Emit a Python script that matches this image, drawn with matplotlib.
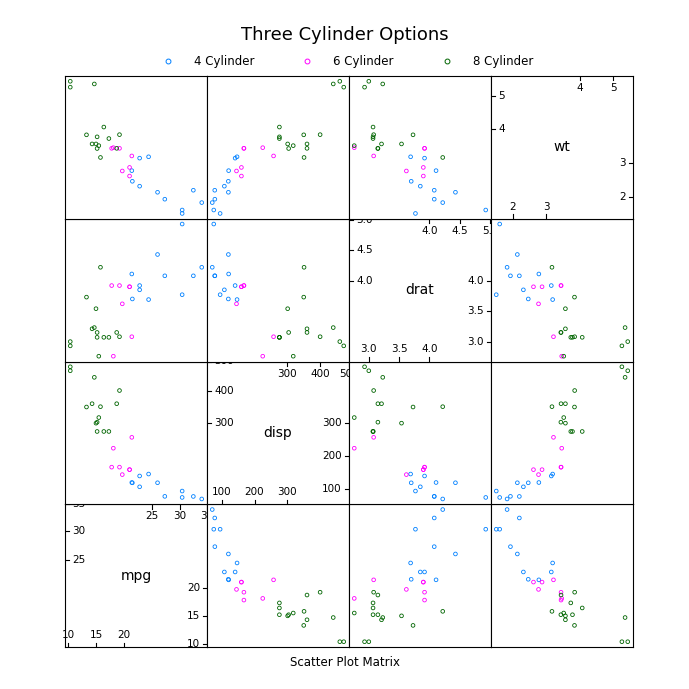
import numpy as np
import matplotlib.pyplot as plt
from matplotlib.lines import Line2D

# mtcars: mpg, disp, drat, wt by cylinder
cyl = [6, 6, 4, 6, 8, 6, 8, 4, 4, 6, 6, 8, 8, 8, 8, 8, 8, 4, 4, 4, 4, 8, 8, 8, 8, 4, 4, 4, 8, 6, 8, 4]
mpg = [21.0, 21.0, 22.8, 21.4, 18.7, 18.1, 14.3, 24.4, 22.8, 19.2, 17.8, 16.4, 17.3, 15.2, 10.4, 10.4,
       14.7, 32.4, 30.4, 33.9, 21.5, 15.5, 15.2, 13.3, 19.2, 27.3, 26.0, 30.4, 15.8, 19.7, 15.0, 21.4]
disp = [160, 160, 108, 258, 360, 225, 360, 146.7, 140.8, 167.6, 167.6, 275.8, 275.8, 275.8, 472, 460,
        440, 78.7, 75.7, 71.1, 120.1, 318, 304, 350, 400, 79, 120.3, 95.1, 351, 145, 301, 121]
drat = [3.90, 3.90, 3.85, 3.08, 3.15, 2.76, 3.21, 3.69, 3.92, 3.92, 3.92, 3.07, 3.07, 3.07, 2.93, 3.00,
        3.23, 4.08, 4.93, 4.22, 3.70, 2.76, 3.15, 3.73, 3.08, 4.08, 4.43, 3.77, 4.22, 3.62, 3.54, 4.11]
wt = [2.620, 2.875, 2.320, 3.215, 3.440, 3.460, 3.570, 3.190, 3.150, 3.440, 3.440, 4.070, 3.730, 3.780,
      5.250, 5.424, 5.345, 2.200, 1.615, 1.835, 2.465, 3.520, 3.435, 3.840, 3.845, 1.935, 2.140, 1.513,
      3.170, 2.770, 3.570, 2.780]

var_names = ['mpg', 'disp', 'drat', 'wt']
variables = [mpg, disp, drat, wt]
lower_ticks = [[10, 15, 20], [100, 200, 300], [3.0, 3.5, 4.0], [2, 3]]
upper_ticks = [[25, 30, 35], [300, 400, 500], [4.0, 4.5, 5.0], [4, 5]]
groups = [4, 6, 8]
group_labels = ['4 Cylinder', '6 Cylinder', '8 Cylinder']
colors = ['#0080ff', '#ff00ff', '#006400']

cyl = np.array(cyl)
data = [np.array(v, dtype=float) for v in variables]
lims = []
for v in data:
    pad = 0.04 * (v.max() - v.min())
    lims.append((v.min() - pad, v.max() + pad))

fig = plt.figure(figsize=(6.89, 6.89), dpi=100)
W = H = 689
left, right, bottom, top = 65 / W, 633 / W, 1 - 647 / H, 1 - 76 / H
n = 4
pw = (right - left) / n
ph = (top - bottom) / n

def fmt(t):
    return ('%g' % t) if not isinstance(t, float) or t != int(t) or t > 10 else '%.1f' % t

for r in range(n):          # r = row from bottom -> y var
    for c in range(n):      # c = column -> x var
        ax = fig.add_axes([left + c * pw, bottom + r * ph, pw, ph])
        ax.set_xlim(lims[c])
        ax.set_ylim(lims[r])
        ax.set_xticks([])
        ax.set_yticks([])
        for s in ax.spines.values():
            s.set_linewidth(0.8)
        if r == c:
            ax.text(0.5, 0.5, var_names[r], transform=ax.transAxes,
                    ha='center', va='center', fontsize=10)
            lo, hi = lims[r]
            for t in lower_ticks[r]:
                f = (t - lo) / (hi - lo)
                ax.plot([f, f], [0, 0.03], color='black', lw=0.8, transform=ax.transAxes)
                ax.text(f, 0.05, fmt(t), transform=ax.transAxes, ha='center', va='bottom', fontsize=7.5)
                ax.plot([0.97, 1], [f, f], color='black', lw=0.8, transform=ax.transAxes)
                ax.text(0.95, f, fmt(t), transform=ax.transAxes, ha='right', va='center', fontsize=7.5)
            for t in upper_ticks[r]:
                f = min((t - lo) / (hi - lo), 1.0)
                ax.plot([f, f], [0.97, 1], color='black', lw=0.8, transform=ax.transAxes)
                ax.text(f, 0.95, fmt(t), transform=ax.transAxes, ha='center', va='top',
                        fontsize=7.5, clip_on=True)
                ax.plot([0, 0.03], [f, f], color='black', lw=0.8, transform=ax.transAxes)
                ax.text(0.05, f, fmt(t), transform=ax.transAxes, ha='left', va='center',
                        fontsize=7.5, clip_on=True)
        else:
            for g, col in zip(groups, colors):
                m = cyl == g
                ax.scatter(data[c][m], data[r][m], s=7, facecolors='none',
                           edgecolors=col, linewidths=0.6)

fig.text(0.5, 1 - 35 / H, 'Three Cylinder Options', ha='center', va='center', fontsize=13)
fig.text(0.5, 1 - 663 / H, 'Scatter Plot Matrix', ha='center', va='center', fontsize=8.5)
handles = [Line2D([], [], marker='o', ls='none', mfc='none', mec=c, ms=3.5, mew=0.7) for c in colors]
fig.legend(handles, group_labels, loc='center', bbox_to_anchor=(0.5, 1 - 62 / H), ncol=3,
           frameon=False, fontsize=8.5, columnspacing=3.5, handletextpad=1.2)

fig.savefig('out.png', dpi=100)
